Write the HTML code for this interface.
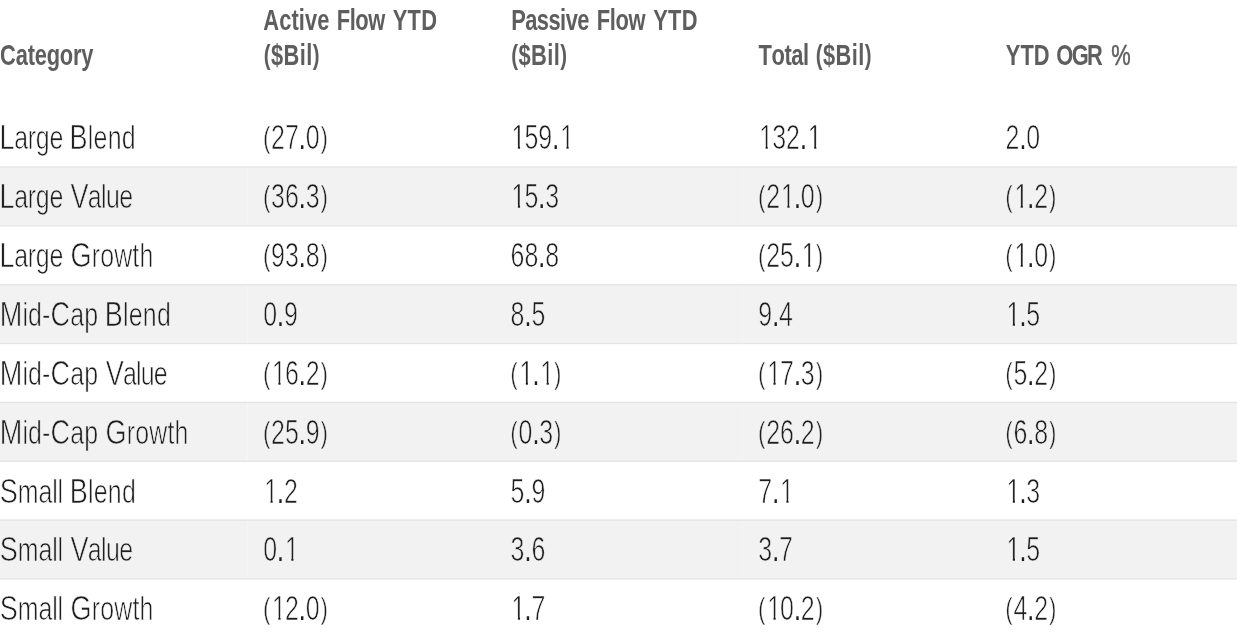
<!DOCTYPE html><html><head><meta charset="utf-8"><title>Flows table</title>
<style>html,body{margin:0;padding:0;background:#fff}svg{display:block}text{font-family:"Liberation Sans",sans-serif;font-kerning:none}.b{font-size:35.85px;fill:#1e1e1e;stroke-width:0.72}.lc{font-size:33.0px}.h{font-size:28.7px;font-weight:bold;fill:#5e5e5e}.hp{font-size:26.8px}.pc{font-weight:normal;stroke:#5e5e5e;stroke-width:.5}.p{font-size:30.2px;stroke-width:.4}.ls{letter-spacing:1.28px}.b .d{stroke:#1e1e1e;stroke-width:0}.w{stroke:#fff}.g{stroke:#f2f2f2}</style></head><body>
<svg width="1237" height="636" viewBox="0 0 1237 636">
<rect x="0" y="167.00" width="1237" height="58.85" fill="#f2f2f2"/>
<rect x="247" y="167.00" width="1" height="58.85" fill="#f6f6f6"/>
<rect x="742" y="167.00" width="1" height="58.85" fill="#f4f4f4"/>
<rect x="0" y="284.70" width="1237" height="58.85" fill="#f2f2f2"/>
<rect x="247" y="284.70" width="1" height="58.85" fill="#f6f6f6"/>
<rect x="742" y="284.70" width="1" height="58.85" fill="#f4f4f4"/>
<rect x="0" y="402.40" width="1237" height="58.85" fill="#f2f2f2"/>
<rect x="247" y="402.40" width="1" height="58.85" fill="#f6f6f6"/>
<rect x="742" y="402.40" width="1" height="58.85" fill="#f4f4f4"/>
<rect x="0" y="520.10" width="1237" height="58.85" fill="#f2f2f2"/>
<rect x="247" y="520.10" width="1" height="58.85" fill="#f6f6f6"/>
<rect x="742" y="520.10" width="1" height="58.85" fill="#f4f4f4"/>
<rect x="0" y="166.35" width="1237" height="1.3" fill="#e4e4e4"/>
<rect x="0" y="225.20" width="1237" height="1.3" fill="#e4e4e4"/>
<rect x="0" y="284.05" width="1237" height="1.3" fill="#e4e4e4"/>
<rect x="0" y="342.90" width="1237" height="1.3" fill="#e4e4e4"/>
<rect x="0" y="401.75" width="1237" height="1.3" fill="#e4e4e4"/>
<rect x="0" y="460.60" width="1237" height="1.3" fill="#e4e4e4"/>
<rect x="0" y="519.45" width="1237" height="1.3" fill="#e4e4e4"/>
<rect x="0" y="578.30" width="1237" height="1.3" fill="#e4e4e4"/>
<g transform="translate(0 65) scale(0.7621 1)"><text id="t0" class="h" aria-label="Category"><tspan x="0.14" style="letter-spacing:-0.260px">Category</tspan></text></g>
<g transform="translate(0 30) scale(0.7621 1)"><text id="t1" class="h" aria-label="Active Flow YTD"><tspan x="345.58" style="letter-spacing:0.117px">Active</tspan> <tspan x="441.75" style="letter-spacing:-0.476px">Flow</tspan> <tspan x="515.48" style="letter-spacing:0.230px">YTD</tspan></text></g>
<g transform="translate(0 65) scale(0.7621 1)"><text id="t2" class="h" aria-label="($Bil)"><tspan x="346.14" style="letter-spacing:0.530px"><tspan class="hp" dy="-0.60">(</tspan><tspan dy="0.60">$Bil</tspan><tspan class="hp" dy="-0.60">)</tspan></tspan></text></g>
<g transform="translate(0 30) scale(0.7621 1)"><text id="t3" class="h" aria-label="Passive Flow YTD"><tspan x="670.73" style="letter-spacing:-0.694px">Passive</tspan> <tspan x="783.06" style="letter-spacing:-0.432px">Flow</tspan> <tspan x="857.32" style="letter-spacing:0.230px">YTD</tspan></text></g>
<g transform="translate(0 65) scale(0.7621 1)"><text id="t4" class="h" aria-label="($Bil)"><tspan x="670.92" style="letter-spacing:0.557px"><tspan class="hp" dy="-0.60">(</tspan><tspan dy="0.60">$Bil</tspan><tspan class="hp" dy="-0.60">)</tspan></tspan></text></g>
<g transform="translate(0 65) scale(0.7621 1)"><text id="t5" class="h" aria-label="Total ($Bil)"><tspan x="995.40" style="letter-spacing:-0.574px">Total</tspan> <tspan x="1070.50" style="letter-spacing:0.530px"><tspan class="hp" dy="-0.60">(</tspan><tspan dy="0.60">$Bil</tspan><tspan class="hp" dy="-0.60">)</tspan></tspan></text></g>
<g transform="translate(0 65) scale(0.7621 1)"><text id="t6" class="h" aria-label="YTD OGR %"><tspan x="1319.81">YTD</tspan> <tspan x="1386.12" style="letter-spacing:-2.213px">OGR</tspan> <tspan x="1458.12"><tspan class="pc">%</tspan></tspan></text></g>
<g transform="translate(0 149) scale(0.7554 1)"><text id="t7" class="b w" aria-label="Large Blend"><tspan x="-0.79" style="letter-spacing:-0.358px">L<tspan class="lc">arge</tspan></tspan> <tspan x="92.14" style="letter-spacing:0.258px">B<tspan class="lc">lend</tspan></tspan></text></g>
<g transform="translate(0 208) scale(0.7554 1)"><text id="t8" class="b g" aria-label="Large Value"><tspan x="-0.79" style="letter-spacing:-0.358px">L<tspan class="lc">arge</tspan></tspan> <tspan x="93.21" style="letter-spacing:-0.835px">V<tspan class="lc">alue</tspan></tspan></text></g>
<g transform="translate(0 267) scale(0.7554 1)"><text id="t9" class="b w" aria-label="Large Growth"><tspan x="-0.79" style="letter-spacing:-0.358px">L<tspan class="lc">arge</tspan></tspan> <tspan x="93.28" style="letter-spacing:0.212px">G<tspan class="lc">rowth</tspan></tspan></text></g>
<g transform="translate(0 326) scale(0.7554 1)"><text id="t10" class="b g" aria-label="Mid-Cap Blend"><tspan x="-0.26" style="letter-spacing:0.147px">M<tspan class="lc">id-</tspan>C<tspan class="lc">ap</tspan></tspan> <tspan x="138.61" style="letter-spacing:0.291px">B<tspan class="lc">lend</tspan></tspan></text></g>
<g transform="translate(0 385) scale(0.7554 1)"><text id="t11" class="b w" aria-label="Mid-Cap Value"><tspan x="-0.26" style="letter-spacing:0.147px">M<tspan class="lc">id-</tspan>C<tspan class="lc">ap</tspan></tspan> <tspan x="139.94" style="letter-spacing:-1.067px">V<tspan class="lc">alue</tspan></tspan></text></g>
<g transform="translate(0 444) scale(0.7554 1)"><text id="t12" class="b g" aria-label="Mid-Cap Growth"><tspan x="-0.26" style="letter-spacing:0.147px">M<tspan class="lc">id-</tspan>C<tspan class="lc">ap</tspan></tspan> <tspan x="139.75" style="letter-spacing:0.212px">G<tspan class="lc">rowth</tspan></tspan></text></g>
<g transform="translate(0 503) scale(0.7554 1)"><text id="t13" class="b w" aria-label="Small Blend"><tspan x="-0.27" style="letter-spacing:-0.142px">S<tspan class="lc">mall</tspan></tspan> <tspan x="92.41" style="letter-spacing:0.258px">B<tspan class="lc">lend</tspan></tspan></text></g>
<g transform="translate(0 561) scale(0.7554 1)"><text id="t14" class="b g" aria-label="Small Value"><tspan x="-0.27" style="letter-spacing:-0.142px">S<tspan class="lc">mall</tspan></tspan> <tspan x="93.21" style="letter-spacing:-0.835px">V<tspan class="lc">alue</tspan></tspan></text></g>
<g transform="translate(0 620) scale(0.7554 1)"><text id="t15" class="b w" aria-label="Small Growth"><tspan x="-0.27" style="letter-spacing:-0.142px">S<tspan class="lc">mall</tspan></tspan> <tspan x="93.41" style="letter-spacing:0.212px">G<tspan class="lc">rowth</tspan></tspan></text></g>
<g transform="translate(263.18 149) scale(0.6962 1)"><text id="t16" class="b w" aria-label="(27.0)"><tspan class="p ls" dy="-1.30">(</tspan><tspan dy="1.30">27</tspan><tspan class="d">.</tspan>0<tspan class="p" dx="1.68" dy="-1.30">)</tspan></text></g>
<g transform="translate(263.18 208) scale(0.6962 1)"><text id="t17" class="b g" aria-label="(36.3)"><tspan class="p ls" dy="-1.30">(</tspan><tspan dy="1.30">36</tspan><tspan class="d">.</tspan>3<tspan class="p" dx="1.68" dy="-1.30">)</tspan></text></g>
<g transform="translate(263.18 267) scale(0.6962 1)"><text id="t18" class="b w" aria-label="(93.8)"><tspan class="p ls" dy="-1.30">(</tspan><tspan dy="1.30">93</tspan><tspan class="d">.</tspan>8<tspan class="p" dx="1.68" dy="-1.30">)</tspan></text></g>
<g transform="translate(263.18 326) scale(0.6962 1)"><text id="t19" class="b g" aria-label="0.9">0<tspan class="d">.</tspan>9</text></g>
<g transform="translate(263.18 385) scale(0.6962 1)"><text id="t20" class="b w" aria-label="(16.2)"><tspan class="p ls" dy="-1.30">(</tspan><tspan dx="1.44" dy="1.30">1</tspan><tspan dx="-1.44">6</tspan><tspan class="d">.</tspan>2<tspan class="p" dx="1.68" dy="-1.30">)</tspan></text><rect x="14.31" y="-3.48" width="7.49" height="4.28" fill="#fff"/><rect x="24.95" y="-3.48" width="7.21" height="4.28" fill="#fff"/></g>
<g transform="translate(263.18 444) scale(0.6962 1)"><text id="t21" class="b g" aria-label="(25.9)"><tspan class="p ls" dy="-1.30">(</tspan><tspan dy="1.30">25</tspan><tspan class="d">.</tspan>9<tspan class="p" dx="1.68" dy="-1.30">)</tspan></text></g>
<g transform="translate(263.18 503) scale(0.6962 1)"><text id="t22" class="b w" aria-label="1.2"><tspan dx="1.44">1</tspan><tspan class="d" dx="-1.44">.</tspan>2</text><rect x="2.97" y="-3.48" width="7.49" height="4.28" fill="#fff"/><rect x="13.61" y="-3.48" width="7.21" height="4.28" fill="#fff"/></g>
<g transform="translate(263.18 561) scale(0.6962 1)"><text id="t23" class="b g" aria-label="0.1">0<tspan class="d">.</tspan><tspan dx="1.44">1</tspan></text><rect x="32.87" y="-3.48" width="7.49" height="4.28" fill="#f2f2f2"/><rect x="43.51" y="-3.48" width="7.21" height="4.28" fill="#f2f2f2"/></g>
<g transform="translate(263.18 620) scale(0.6962 1)"><text id="t24" class="b w" aria-label="(12.0)"><tspan class="p ls" dy="-1.30">(</tspan><tspan dx="1.44" dy="1.30">1</tspan><tspan dx="-1.44">2</tspan><tspan class="d">.</tspan>0<tspan class="p" dx="1.68" dy="-1.30">)</tspan></text><rect x="14.31" y="-3.48" width="7.49" height="4.28" fill="#fff"/><rect x="24.95" y="-3.48" width="7.21" height="4.28" fill="#fff"/></g>
<g transform="translate(510.60 149) scale(0.6962 1)"><text id="t25" class="b w" aria-label="159.1"><tspan dx="1.44">1</tspan><tspan dx="-1.44">59</tspan><tspan class="d">.</tspan><tspan dx="1.44">1</tspan></text><rect x="2.97" y="-3.48" width="7.49" height="4.28" fill="#fff"/><rect x="13.61" y="-3.48" width="7.21" height="4.28" fill="#fff"/><rect x="72.75" y="-3.48" width="7.49" height="4.28" fill="#fff"/><rect x="83.39" y="-3.48" width="7.21" height="4.28" fill="#fff"/></g>
<g transform="translate(510.60 208) scale(0.6962 1)"><text id="t26" class="b g" aria-label="15.3"><tspan dx="1.44">1</tspan><tspan dx="-1.44">5</tspan><tspan class="d">.</tspan>3</text><rect x="2.97" y="-3.48" width="7.49" height="4.28" fill="#f2f2f2"/><rect x="13.61" y="-3.48" width="7.21" height="4.28" fill="#f2f2f2"/></g>
<g transform="translate(510.60 267) scale(0.6962 1)"><text id="t27" class="b w" aria-label="68.8">68<tspan class="d">.</tspan>8</text></g>
<g transform="translate(510.60 326) scale(0.6962 1)"><text id="t28" class="b g" aria-label="8.5">8<tspan class="d">.</tspan>5</text></g>
<g transform="translate(510.60 385) scale(0.6962 1)"><text id="t29" class="b w" aria-label="(1.1)"><tspan class="p ls" dy="-1.30">(</tspan><tspan dx="1.44" dy="1.30">1</tspan><tspan class="d" dx="-1.44">.</tspan><tspan dx="1.44">1</tspan><tspan class="p" dx="0.24" dy="-1.30">)</tspan></text><rect x="14.31" y="-3.48" width="7.49" height="4.28" fill="#fff"/><rect x="24.95" y="-3.48" width="7.21" height="4.28" fill="#fff"/><rect x="44.21" y="-3.48" width="7.49" height="4.28" fill="#fff"/><rect x="54.85" y="-3.48" width="7.21" height="4.28" fill="#fff"/></g>
<g transform="translate(510.60 444) scale(0.6962 1)"><text id="t30" class="b g" aria-label="(0.3)"><tspan class="p ls" dy="-1.30">(</tspan><tspan dy="1.30">0</tspan><tspan class="d">.</tspan>3<tspan class="p" dx="1.68" dy="-1.30">)</tspan></text></g>
<g transform="translate(510.60 503) scale(0.6962 1)"><text id="t31" class="b w" aria-label="5.9">5<tspan class="d">.</tspan>9</text></g>
<g transform="translate(510.60 561) scale(0.6962 1)"><text id="t32" class="b g" aria-label="3.6">3<tspan class="d">.</tspan>6</text></g>
<g transform="translate(510.60 620) scale(0.6962 1)"><text id="t33" class="b w" aria-label="1.7"><tspan dx="1.44">1</tspan><tspan class="d" dx="-1.44">.</tspan>7</text><rect x="2.97" y="-3.48" width="7.49" height="4.28" fill="#fff"/><rect x="13.61" y="-3.48" width="7.21" height="4.28" fill="#fff"/></g>
<g transform="translate(758.28 149) scale(0.6962 1)"><text id="t34" class="b w" aria-label="132.1"><tspan dx="1.44">1</tspan><tspan dx="-1.44">32</tspan><tspan class="d">.</tspan><tspan dx="1.44">1</tspan></text><rect x="2.97" y="-3.48" width="7.49" height="4.28" fill="#fff"/><rect x="13.61" y="-3.48" width="7.21" height="4.28" fill="#fff"/><rect x="72.75" y="-3.48" width="7.49" height="4.28" fill="#fff"/><rect x="83.39" y="-3.48" width="7.21" height="4.28" fill="#fff"/></g>
<g transform="translate(758.28 208) scale(0.6962 1)"><text id="t35" class="b g" aria-label="(21.0)"><tspan class="p ls" dy="-1.30">(</tspan><tspan dy="1.30">2</tspan><tspan dx="1.44">1</tspan><tspan class="d" dx="-1.44">.</tspan>0<tspan class="p" dx="1.68" dy="-1.30">)</tspan></text><rect x="34.25" y="-3.48" width="7.49" height="4.28" fill="#f2f2f2"/><rect x="44.89" y="-3.48" width="7.21" height="4.28" fill="#f2f2f2"/></g>
<g transform="translate(758.28 267) scale(0.6962 1)"><text id="t36" class="b w" aria-label="(25.1)"><tspan class="p ls" dy="-1.30">(</tspan><tspan dy="1.30">25</tspan><tspan class="d">.</tspan><tspan dx="1.44">1</tspan><tspan class="p" dx="0.24" dy="-1.30">)</tspan></text><rect x="64.14" y="-3.48" width="7.49" height="4.28" fill="#fff"/><rect x="74.79" y="-3.48" width="7.21" height="4.28" fill="#fff"/></g>
<g transform="translate(758.28 326) scale(0.6962 1)"><text id="t37" class="b g" aria-label="9.4">9<tspan class="d">.</tspan>4</text></g>
<g transform="translate(758.28 385) scale(0.6962 1)"><text id="t38" class="b w" aria-label="(17.3)"><tspan class="p ls" dy="-1.30">(</tspan><tspan dx="1.44" dy="1.30">1</tspan><tspan dx="-1.44">7</tspan><tspan class="d">.</tspan>3<tspan class="p" dx="1.68" dy="-1.30">)</tspan></text><rect x="14.31" y="-3.48" width="7.49" height="4.28" fill="#fff"/><rect x="24.95" y="-3.48" width="7.21" height="4.28" fill="#fff"/></g>
<g transform="translate(758.28 444) scale(0.6962 1)"><text id="t39" class="b g" aria-label="(26.2)"><tspan class="p ls" dy="-1.30">(</tspan><tspan dy="1.30">26</tspan><tspan class="d">.</tspan>2<tspan class="p" dx="1.68" dy="-1.30">)</tspan></text></g>
<g transform="translate(758.28 503) scale(0.6962 1)"><text id="t40" class="b w" aria-label="7.1">7<tspan class="d">.</tspan><tspan dx="1.44">1</tspan></text><rect x="32.87" y="-3.48" width="7.49" height="4.28" fill="#fff"/><rect x="43.51" y="-3.48" width="7.21" height="4.28" fill="#fff"/></g>
<g transform="translate(758.28 561) scale(0.6962 1)"><text id="t41" class="b g" aria-label="3.7">3<tspan class="d">.</tspan>7</text></g>
<g transform="translate(758.28 620) scale(0.6962 1)"><text id="t42" class="b w" aria-label="(10.2)"><tspan class="p ls" dy="-1.30">(</tspan><tspan dx="1.44" dy="1.30">1</tspan><tspan dx="-1.44">0</tspan><tspan class="d">.</tspan>2<tspan class="p" dx="1.68" dy="-1.30">)</tspan></text><rect x="14.31" y="-3.48" width="7.49" height="4.28" fill="#fff"/><rect x="24.95" y="-3.48" width="7.21" height="4.28" fill="#fff"/></g>
<g transform="translate(1005.50 149) scale(0.6962 1)"><text id="t43" class="b w" aria-label="2.0">2<tspan class="d">.</tspan>0</text></g>
<g transform="translate(1005.50 208) scale(0.6962 1)"><text id="t44" class="b g" aria-label="(1.2)"><tspan class="p ls" dy="-1.30">(</tspan><tspan dx="1.44" dy="1.30">1</tspan><tspan class="d" dx="-1.44">.</tspan>2<tspan class="p" dx="1.68" dy="-1.30">)</tspan></text><rect x="14.31" y="-3.48" width="7.49" height="4.28" fill="#f2f2f2"/><rect x="24.95" y="-3.48" width="7.21" height="4.28" fill="#f2f2f2"/></g>
<g transform="translate(1005.50 267) scale(0.6962 1)"><text id="t45" class="b w" aria-label="(1.0)"><tspan class="p ls" dy="-1.30">(</tspan><tspan dx="1.44" dy="1.30">1</tspan><tspan class="d" dx="-1.44">.</tspan>0<tspan class="p" dx="1.68" dy="-1.30">)</tspan></text><rect x="14.31" y="-3.48" width="7.49" height="4.28" fill="#fff"/><rect x="24.95" y="-3.48" width="7.21" height="4.28" fill="#fff"/></g>
<g transform="translate(1005.50 326) scale(0.6962 1)"><text id="t46" class="b g" aria-label="1.5"><tspan dx="1.44">1</tspan><tspan class="d" dx="-1.44">.</tspan>5</text><rect x="2.97" y="-3.48" width="7.49" height="4.28" fill="#f2f2f2"/><rect x="13.61" y="-3.48" width="7.21" height="4.28" fill="#f2f2f2"/></g>
<g transform="translate(1005.50 385) scale(0.6962 1)"><text id="t47" class="b w" aria-label="(5.2)"><tspan class="p ls" dy="-1.30">(</tspan><tspan dy="1.30">5</tspan><tspan class="d">.</tspan>2<tspan class="p" dx="1.68" dy="-1.30">)</tspan></text></g>
<g transform="translate(1005.50 444) scale(0.6962 1)"><text id="t48" class="b g" aria-label="(6.8)"><tspan class="p ls" dy="-1.30">(</tspan><tspan dy="1.30">6</tspan><tspan class="d">.</tspan>8<tspan class="p" dx="1.68" dy="-1.30">)</tspan></text></g>
<g transform="translate(1005.50 503) scale(0.6962 1)"><text id="t49" class="b w" aria-label="1.3"><tspan dx="1.44">1</tspan><tspan class="d" dx="-1.44">.</tspan>3</text><rect x="2.97" y="-3.48" width="7.49" height="4.28" fill="#fff"/><rect x="13.61" y="-3.48" width="7.21" height="4.28" fill="#fff"/></g>
<g transform="translate(1005.50 561) scale(0.6962 1)"><text id="t50" class="b g" aria-label="1.5"><tspan dx="1.44">1</tspan><tspan class="d" dx="-1.44">.</tspan>5</text><rect x="2.97" y="-3.48" width="7.49" height="4.28" fill="#f2f2f2"/><rect x="13.61" y="-3.48" width="7.21" height="4.28" fill="#f2f2f2"/></g>
<g transform="translate(1005.50 620) scale(0.6962 1)"><text id="t51" class="b w" aria-label="(4.2)"><tspan class="p ls" dy="-1.30">(</tspan><tspan dy="1.30">4</tspan><tspan class="d">.</tspan>2<tspan class="p" dx="1.68" dy="-1.30">)</tspan></text></g>
</svg></body></html>
